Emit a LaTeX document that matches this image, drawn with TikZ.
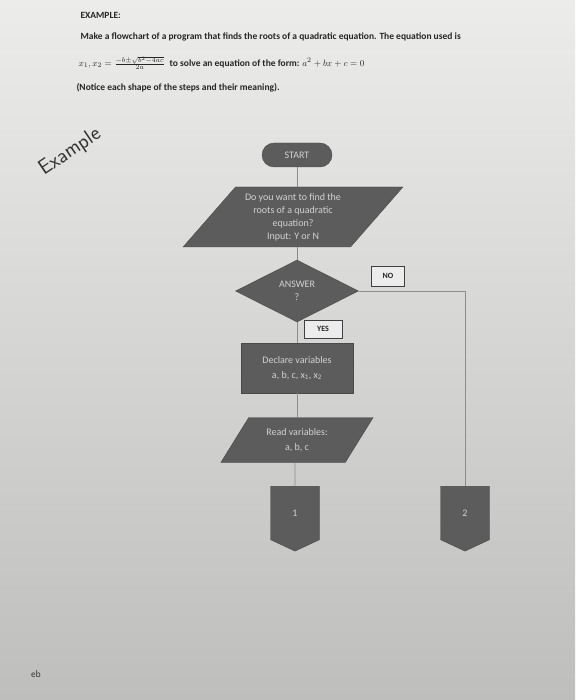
\documentclass[tikz,border=0pt]{standalone}
\usepackage{amsmath,amssymb}
\usepackage{fontspec}
\setmainfont{Carlito}
\usepackage{xcolor}
\usepackage{tikz}
\usetikzlibrary{shapes.geometric,shapes.symbols}

\definecolor{papertop}{HTML}{ECECEA}
\definecolor{paperbottom}{HTML}{BEBEBC}
\definecolor{boxfill}{HTML}{5C5C5C}
\definecolor{boxtext}{HTML}{D2D2D2}
\definecolor{wirecol}{HTML}{8C8C8C}

\begin{document}
\begin{tikzpicture}[x=1pt,y=-1pt,
    box/.style={draw=boxfill!80!black, fill=boxfill, text=boxtext, align=center,
        inner sep=1pt, font=\fontsize{10}{13}\selectfont},
    term/.style={box, rounded corners=12pt, minimum width=70pt, minimum height=24pt},
    io/.style={box, trapezium, trapezium left angle=#1, trapezium right angle=180-#1,
        trapezium stretches=true},
    decision/.style={box, diamond, aspect=2, minimum width=123pt, minimum height=62pt},
    offpage/.style={box, signal, signal to=south, signal pointer angle=130,
        minimum width=49pt, minimum height=55pt},
    answerbox/.style={draw=black!75, fill=white!85!gray, text=black!85,
        font=\bfseries\fontsize{8}{9}\selectfont, inner sep=1pt},
    header/.style={anchor=base west, text=black!85, font=\bfseries\fontsize{9.5}{11}\selectfont},
    wire/.style={draw=wirecol, line width=0.7pt}
]
            % paper
            \shade[top color=papertop, bottom color=paperbottom] (0,0) rectangle (575,700);

            % task text
            \node[header] (title) at (77,19) {EXAMPLE:};
            \node[header] (task) at (77,40) {Make a flowchart of a program that finds the roots of a quadratic equation. The equation used is};
            \node[header, anchor=west] (formula) at (75,63) {$x_1, x_2 = \frac{-b\pm\sqrt{b^2-4ac}}{2a}$\enspace to solve an equation of the form: $a^2+bx+c=0$};
            \node[header] (notice) at (73,91) {(Notice each shape of the steps and their meaning).};

            % handwriting
            \node[rotate=34, text=black!80, font=\sffamily\fontsize{21}{21}\selectfont] (hand) at (70,152) {Example};
            \node[text=black!80, font=\sffamily\fontsize{10}{10}\selectfont] (sign) at (36,674) {eb};

            % flowchart
            \node[term] (start) at (297,155) {START};
            \node[io=48, minimum width=220pt, minimum height=60pt] (ask) at (293,217)
                {Do you want to find the\\roots of a quadratic\\equation?\\Input: Y or N};
            \node[decision] (answer) at (297,291) {ANSWER\\?};
            \node[answerbox, minimum width=33pt, minimum height=20pt] (no) at (388,276) {NO};
            \node[answerbox, minimum width=38pt, minimum height=18pt] (yes) at (323,329) {YES};
            \node[box, minimum width=112pt, minimum height=50pt] (declare) at (297,368)
                {Declare variables\\[2pt] a, b, c, x\textsubscript{1}, x\textsubscript{2}};
            \node[io=54, minimum width=154pt, minimum height=45pt] (read) at (297,440)
                {Read variables:\\[2pt] a, b, c};
            \node[offpage] (one) at (295,513) {1};
            \node[offpage] (two) at (465,513) {2};

            \draw[wire] (start) -- (start |- ask.north);
            \draw[wire] (answer.north |- ask.south) -- (answer);
            \draw[wire] (answer) -- (declare);
            \draw[wire] (declare) -- (read);
            \draw[wire] (one |- read.south) -- (one);
            \draw[wire] (answer.east) -| (two);
        \end{tikzpicture}
\end{document}
